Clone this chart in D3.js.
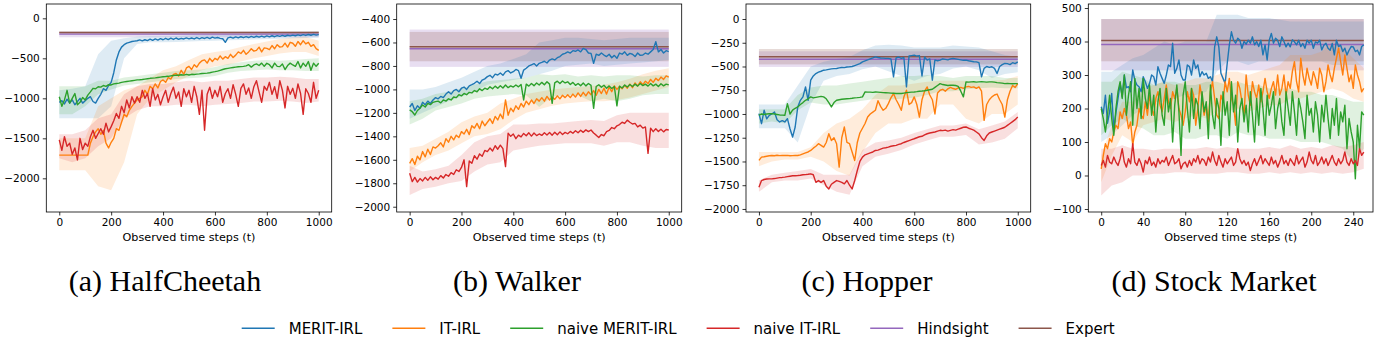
<!DOCTYPE html>
<html lang="en">
<head>
<meta charset="utf-8">
<title>MERIT-IRL curves</title>
<script src="https://cdn.jsdelivr.net/npm/d3@7"></script>
<style>
  body { margin: 0; background: #fff; }
  svg { display: block; }
</style>
</head>
<body>
<script>
// ---- data ----
let seriesNames = ["MERIT-IRL", "IT-IRL", "naive MERIT-IRL", "naive IT-IRL", "Hindsight", "Expert"];
let seriesColors = ["#1f77b4", "#ff7f0e", "#2ca02c", "#d62728", "#9467bd", "#8c564b"];

let stepsLong = d3.range(0, 1001, 10);
let bandStepsLong = d3.range(0, 1001, 50);
let stepsStock = d3.range(0, 251, 2);
let bandStepsStock = d3.range(0, 251, 10);

// (a) HalfCheetah
let hcMerit = [-1050,-1030,-1070,-1010,-1060,-1020,-1080,-1040,-1000,-1060,-1030,
  -1000,-980,-1040,-1060,-1000,-950,-880,-900,-840,-800,
  -680,-520,-420,-360,-330,-310,-300,-290,-285,-280,
  -270,-282,-268,-278,-260,-276,-258,-272,-255,-268,
  -250,-266,-248,-264,-246,-262,-250,-258,-244,-256,
  -246,-258,-240,-256,-242,-252,-238,-254,-236,-248,
  -240,-250,-255,-300,-245,-236,-248,-232,-244,-230,
  -242,-228,-240,-226,-238,-224,-236,-222,-234,-220,
  -232,-218,-230,-216,-226,-214,-224,-212,-220,-210,
  -218,-206,-216,-204,-214,-202,-212,-200,-210,-204];
let hcIt = [-1710,-1710,-1710,-1710,-1710,-1710,-1710,-1710,-1710,-1710,-1710,
  -1710,-1560,-1480,-1420,-1380,-1450,-1400,-1560,-1620,-1550,
  -1500,-1380,-1400,-1300,-1200,-1230,-1150,-1100,-1060,-1020,
  -1000,-980,-900,-950,-850,-880,-820,-870,-790,-770,
  -800,-740,-760,-700,-690,-720,-650,-700,-620,-600,
  -640,-580,-610,-560,-530,-520,-560,-500,-540,-500,
  -520,-470,-510,-480,-500,-450,-490,-460,-420,-440,
  -400,-450,-420,-380,-410,-400,-360,-420,-370,-375,
  -390,-340,-380,-330,-360,-354,-310,-360,-300,-312,
  -350,-290,-330,-280,-320,-300,-350,-330,-380,-400];
let hcNaiveMerit = [-980,-1100,-1020,-900,-1060,-1000,-940,-1080,-1050,-990,-1020,
  -960,-920,-875,-880,-855,-860,-840,-850,-830,-833,
  -820,-815,-810,-800,-795,-790,-785,-780,-775,-770,
  -768,-765,-760,-755,-750,-748,-745,-740,-735,-730,
  -728,-725,-720,-715,-710,-712,-705,-710,-700,-708,
  -700,-702,-698,-695,-690,-688,-685,-680,-672,-667,
  -660,-650,-640,-630,-625,-620,-615,-610,-605,-604,
  -600,-595,-580,-610,-583,-570,-590,-560,-600,-562,
  -580,-620,-560,-600,-604,-570,-640,-590,-560,-583,
  -600,-540,-620,-560,-600,-540,-650,-560,-600,-562];
let hcNaiveIt = [-1520,-1650,-1480,-1600,-1560,-1700,-1620,-1770,-1500,-1640,-1560,
  -1600,-1480,-1400,-1500,-1440,-1380,-1450,-1310,-1420,-1354,
  -1280,-1190,-1250,-1100,-1180,-1020,-1120,-980,-1060,-980,
  -1050,-900,-1000,-940,-1100,-880,-1020,-950,-1080,-980,
  -900,-1050,-940,-860,-1000,-920,-1100,-880,-980,-900,
  -1050,-850,-980,-1200,-900,-1400,-950,-860,-1000,-900,
  -980,-850,-1050,-940,-880,-1000,-830,-950,-1100,-875,
  -820,-950,-870,-1000,-855,-780,-920,-1050,-850,-900,
  -800,-950,-855,-1000,-780,-900,-1120,-850,-950,-875,
  -1000,-820,-940,-1200,-880,-940,-1050,-800,-1000,-900];
let hcMeritLo = [-1250,-1250,-1250,-1250,-1100,-500,-320,-300,-300,-295,-290,-285,-280,-275,-270,-265,-260,-255,-250,-245,-240];
let hcMeritHi = [-900,-880,-850,-450,-280,-250,-230,-225,-225,-220,-215,-210,-205,-200,-195,-190,-185,-180,-175,-170,-165];
let hcItLo = [-1900,-1900,-1900,-2100,-2150,-1800,-1200,-1000,-900,-800,-720,-650,-600,-580,-540,-500,-470,-440,-420,-420,-470];
let hcItHi = [-1500,-1500,-1500,-1100,-1000,-900,-850,-750,-650,-600,-520,-450,-420,-400,-360,-320,-290,-260,-240,-230,-280];
let hcNaiveMeritLo = [-1200,-1200,-1100,-950,-890,-840,-820,-800,-780,-760,-750,-740,-720,-680,-660,-650,-640,-650,-650,-660,-660];
let hcNaiveMeritHi = [-850,-850,-850,-780,-780,-740,-720,-700,-680,-660,-650,-640,-610,-570,-550,-530,-520,-530,-520,-510,-500];
let hcNaiveItLo = [-1750,-1800,-1750,-1600,-1500,-1250,-1150,-1100,-1100,-1080,-1080,-1100,-1080,-1070,-1060,-1040,-1040,-1030,-1040,-1060,-1040];
let hcNaiveItHi = [-1450,-1450,-1400,-1250,-1200,-950,-850,-820,-820,-800,-780,-800,-780,-780,-760,-740,-740,-730,-740,-760,-760];
let hcHindsight = [-198, -237, -167];
let hcExpert = [-178, -190, -166];

// (b) Walker
let wkMerit = [-1150,-1120,-1180,-1140,-1160,-1110,-1130,-1100,-1120,-1090,-1070,
  -1080,-1060,-1070,-1040,-1020,-1040,-1010,-1000,-1020,-990,
  -980,-1000,-970,-960,-948,-930,-950,-920,-910,-891,
  -880,-900,-870,-877,-860,-880,-850,-840,-860,-849,
  -830,-840,-905,-835,-820,-800,-790,-780,-800,-778,
  -770,-760,-775,-750,-740,-749,-730,-720,-700,-693,
  -680,-690,-670,-675,-664,-680,-650,-660,-690,-693,
  -778,-700,-710,-690,-707,-720,-700,-730,-710,-735,
  -690,-700,-680,-710,-693,-700,-720,-690,-710,-707,
  -690,-700,-680,-660,-593,-680,-660,-690,-670,-678];
let wkIt = [-1630,-1590,-1640,-1570,-1600,-1530,-1575,-1510,-1555,-1490,-1500,
  -1480,-1455,-1490,-1420,-1450,-1400,-1430,-1390,-1410,-1360,
  -1380,-1340,-1385,-1310,-1330,-1290,-1335,-1270,-1310,-1280,
  -1250,-1290,-1230,-1260,-1210,-1250,-1090,-1220,-1160,-1190,
  -1140,-1170,-1120,-1150,-1100,-1130,-1090,-1120,-1080,-1100,
  -1070,-1100,-1060,-1090,-1065,-1085,-1055,-1080,-1050,-1070,
  -1045,-1070,-1040,-1065,-1030,-1060,-1025,-1055,-1020,-1045,
  -1010,-1050,-1000,-1035,-990,-1040,-980,-1020,-970,-1000,
  -975,-995,-965,-990,-955,-985,-945,-970,-935,-960,
  -930,-950,-915,-940,-905,-925,-895,-915,-885,-895];
let wkNaiveMerit = [-1175,-1190,-1218,-1180,-1160,-1133,-1150,-1120,-1130,-1110,-1104,
  -1100,-1115,-1090,-1100,-1080,-1090,-1065,-1070,-1045,-1055,
  -1035,-1045,-1025,-1030,-1010,-1020,-995,-1010,-990,-1000,
  -978,-995,-972,-990,-968,-988,-962,-985,-970,-980,
  -962,-978,-958,-1090,-955,-972,-950,-968,-945,-962,
  -940,-960,-935,-955,-1119,-945,-930,-950,-928,-945,
  -935,-958,-940,-965,-950,-968,-945,-970,-950,-965,
  -1161,-975,-960,-982,-965,-990,-970,-992,-975,-1140,
  -972,-988,-962,-980,-958,-975,-955,-972,-950,-968,
  -955,-972,-950,-970,-955,-975,-952,-970,-955,-962];
let wkNaiveIt = [-1715,-1786,-1750,-1790,-1760,-1780,-1750,-1775,-1745,-1770,-1750,
  -1765,-1735,-1755,-1725,-1740,-1710,-1725,-1685,-1700,-1665,
  -1600,-1829,-1610,-1630,-1565,-1595,-1550,-1570,-1520,-1530,
  -1500,-1525,-1480,-1510,-1475,-1505,-1658,-1374,-1400,-1380,
  -1420,-1390,-1405,-1375,-1395,-1370,-1398,-1372,-1394,-1380,
  -1392,-1370,-1388,-1368,-1390,-1365,-1386,-1362,-1384,-1366,
  -1378,-1358,-1374,-1352,-1370,-1348,-1366,-1345,-1360,-1346,
  -1372,-1390,-1410,-1385,-1395,-1360,-1350,-1325,-1335,-1310,
  -1300,-1280,-1290,-1262,-1280,-1295,-1290,-1320,-1305,-1330,
  -1320,-1545,-1330,-1360,-1335,-1358,-1340,-1362,-1342,-1346];
let wkMeritLo = [-1250,-1200,-1150,-1100,-1060,-1020,-960,-940,-920,-900,-870,-840,-800,-790,-780,-800,-790,-780,-770,-760,-750];
let wkMeritHi = [-1000,-1000,-980,-940,-900,-850,-800,-780,-740,-700,-600,-580,-560,-560,-570,-580,-570,-560,-560,-560,-560];
let wkItLo = [-1700,-1620,-1560,-1520,-1460,-1400,-1380,-1340,-1260,-1200,-1170,-1140,-1120,-1110,-1100,-1100,-1090,-1070,-1040,-1010,-980];
let wkItHi = [-1500,-1480,-1420,-1360,-1280,-1230,-1200,-1120,-1080,-1040,-1020,-1000,-990,-980,-970,-960,-940,-910,-870,-840,-820];
let wkNaiveMeritLo = [-1300,-1250,-1180,-1150,-1120,-1080,-1060,-1050,-1040,-1050,-1150,-1060,-1050,-1050,-1100,-1080,-1100,-1080,-1050,-1040,-1040];
let wkNaiveMeritHi = [-1100,-1080,-1040,-1020,-990,-960,-930,-920,-910,-900,-870,-880,-870,-890,-880,-890,-880,-880,-890,-880,-880];
let wkNaiveItLo = [-1900,-1850,-1830,-1800,-1780,-1700,-1640,-1620,-1520,-1500,-1480,-1470,-1460,-1460,-1460,-1480,-1450,-1450,-1480,-1500,-1500];
let wkNaiveItHi = [-1650,-1700,-1680,-1650,-1560,-1450,-1400,-1380,-1300,-1300,-1290,-1290,-1280,-1270,-1260,-1270,-1220,-1200,-1200,-1200,-1200];
let wkHindsight = [-654, -808, -490];
let wkExpert = [-637, -760, -510];

// (c) Hopper
let hpMerit = [-996,-1102,-961,-1050,-1014,-1000,-979,-1060,-1084,-1070,-1084,
  -1049,-1155,-1243,-1137,-926,-856,-820,-715,-856,-644,
  -600,-574,-560,-550,-539,-535,-530,-525,-522,-521,
  -515,-510,-512,-505,-503,-500,-490,-480,-470,-451,
  -440,-430,-420,-410,-398,-405,-410,-412,-414,-415,
  -420,-609,-410,-400,-415,-405,-715,-390,-385,-380,
  -390,-385,-600,-400,-433,-420,-644,-430,-440,-433,
  -420,-425,-430,-420,-415,-420,-425,-430,-435,-433,
  -440,-445,-450,-451,-460,-609,-520,-500,-510,-503,
  -520,-574,-500,-480,-468,-470,-480,-460,-470,-451];
let hpIt = [-1489,-1454,-1450,-1445,-1440,-1437,-1440,-1435,-1438,-1436,-1437,
  -1436,-1440,-1438,-1437,-1437,-1430,-1420,-1410,-1400,-1384,
  -1360,-1340,-1313,-1330,-1349,-1300,-1208,-1280,-1250,-1313,
  -1560,-1250,-1137,-1300,-1313,-1400,-1489,-1300,-1200,-1150,
  -1100,-1032,-1000,-980,-961,-860,-920,-961,-940,-891,
  -830,-785,-850,-900,-961,-820,-750,-900,-880,-820,
  -900,-1032,-850,-760,-715,-800,-850,-1000,-780,-750,
  -740,-760,-735,-720,-732,-740,-725,-720,-730,-715,
  -710,-720,-715,-730,-715,-760,-1067,-900,-850,-820,
  -800,-790,-850,-900,-1032,-850,-760,-700,-720,-680];
let hpNaiveMerit = [-1014,-1000,-1005,-1000,-998,-996,-1000,-1005,-1010,-1012,-1014,
  -891,-1000,-960,-940,-926,-900,-880,-856,-840,-820,
  -830,-825,-820,-815,-820,-840,-880,-926,-880,-856,
  -850,-845,-842,-840,-838,-835,-830,-828,-825,-820,
  -768,-770,-770,-772,-768,-770,-772,-775,-776,-778,
  -780,-782,-785,-784,-785,-780,-775,-772,-770,-768,
  -765,-760,-758,-755,-750,-745,-740,-720,-700,-680,
  -690,-695,-700,-697,-697,-700,-710,-760,-820,-662,
  -665,-662,-660,-665,-662,-660,-662,-665,-662,-662,
  -665,-670,-672,-675,-680,-678,-680,-682,-680,-680];
let hpNaiveIt = [-1771,-1701,-1690,-1685,-1683,-1683,-1680,-1675,-1670,-1668,-1665,
  -1660,-1655,-1650,-1650,-1648,-1645,-1640,-1638,-1635,-1630,
  -1640,-1720,-1701,-1720,-1701,-1760,-1789,-1740,-1720,-1701,
  -1710,-1720,-1736,-1700,-1750,-1789,-1700,-1595,-1500,-1454,
  -1430,-1420,-1410,-1400,-1384,-1380,-1370,-1360,-1355,-1349,
  -1340,-1335,-1330,-1320,-1313,-1300,-1290,-1280,-1270,-1261,
  -1250,-1240,-1235,-1220,-1208,-1200,-1195,-1190,-1180,-1172,
  -1175,-1170,-1180,-1172,-1165,-1170,-1160,-1150,-1140,-1137,
  -1150,-1160,-1170,-1190,-1210,-1250,-1278,-1230,-1200,-1190,
  -1180,-1170,-1160,-1150,-1140,-1120,-1100,-1080,-1060,-1032];
let hpMeritLo = [-1150,-1150,-1150,-1300,-900,-650,-600,-580,-530,-500,-550,-600,-650,-600,-580,-520,-500,-540,-620,-580,-560];
let hpMeritHi = [-900,-900,-900,-700,-500,-450,-420,-400,-330,-280,-270,-280,-300,-300,-300,-280,-290,-300,-340,-380,-400];
let hpItLo = [-1550,-1500,-1480,-1480,-1450,-1500,-1600,-1650,-1400,-1200,-1100,-1100,-1050,-1050,-900,-900,-1050,-1100,-1000,-1000,-900];
let hpItHi = [-1400,-1400,-1400,-1400,-1350,-1200,-1100,-1050,-950,-800,-700,-700,-680,-660,-650,-650,-650,-680,-650,-640,-600];
let hpNaiveMeritLo = [-1100,-1080,-1100,-960,-880,-900,-900,-880,-860,-840,-850,-840,-830,-800,-760,-760,-740,-730,-720,-730,-730];
let hpNaiveMeritHi = [-950,-950,-950,-800,-720,-700,-700,-680,-660,-640,-620,-600,-600,-590,-600,-620,-600,-600,-600,-620,-620];
let hpNaiveItLo = [-1820,-1720,-1700,-1700,-1680,-1750,-1820,-1850,-1550,-1450,-1420,-1380,-1320,-1280,-1240,-1240,-1220,-1320,-1300,-1260,-1150];
let hpNaiveItHi = [-1700,-1640,-1620,-1600,-1580,-1640,-1640,-1640,-1380,-1300,-1280,-1250,-1200,-1160,-1120,-1120,-1100,-1160,-1120,-1080,-980];
let hpHindsight = [-424, -505, -340];
let hpExpert = [-397, -478, -316];

// (d) Stock Market
let smMerit = [205,185,240,156,190,245,136,186,230,275,
  235,300,262,265,250,315,285,270,265,250,
  295,280,260,275,300,295,270,325,305,290,
  275,300,330,325,395,305,320,345,300,285,
  285,330,325,300,345,320,330,295,310,300,
  305,290,295,280,384,414,384,305,290,275,
  335,390,429,404,395,410,404,380,400,392,
  404,395,414,390,400,385,404,360,390,345,
  404,424,395,410,404,385,414,400,384,395,
  384,405,399,390,404,385,394,380,404,395,
  404,380,399,395,404,375,389,395,380,374,
  394,360,404,385,389,370,380,360,374,385,
  384,370,374,360,385,390];
let smIt = [20,60,95,80,110,100,130,150,140,190,
  170,200,180,140,160,90,130,150,200,180,
  170,220,180,240,200,180,230,250,210,190,
  230,270,220,200,250,230,260,200,180,150,
  190,250,220,260,240,150,200,270,230,180,
  210,160,250,280,230,180,170,240,220,280,
  250,290,230,210,150,280,260,220,180,300,
  240,210,280,250,230,270,220,250,290,250,
  230,260,280,240,300,240,260,300,240,280,
  260,310,340,280,250,350,300,270,320,290,
  270,310,290,260,320,300,250,280,330,300,
  280,320,350,380,340,300,360,320,280,300,
  260,330,300,280,250,260];
let smNaiveMerit = [200,170,130,180,240,170,120,200,250,280,
  230,300,180,240,280,150,290,200,260,170,
  290,230,200,270,180,240,130,220,260,180,
  150,260,190,230,100,210,270,190,60,240,
  280,200,130,260,170,230,210,140,250,190,
  220,110,270,180,140,230,200,90,250,180,
  220,120,280,190,240,100,200,230,160,210,
  130,250,180,100,230,150,260,200,120,240,
  180,210,250,140,200,230,160,120,250,200,
  150,250,190,120,230,200,160,110,240,180,
  200,130,220,180,100,210,160,240,170,110,
  200,150,230,120,190,160,210,80,170,130,
  100,-10,150,80,190,180];
let smNaiveIt = [30,45,25,60,40,35,55,40,30,50,
  80,40,25,50,35,95,40,30,50,35,
  10,45,35,55,30,40,25,50,35,45,
  40,55,30,45,60,35,40,50,20,35,
  40,25,45,30,50,40,60,35,50,45,
  30,55,40,70,45,30,60,40,25,50,
  35,45,55,30,40,80,50,35,45,30,
  40,15,35,50,30,45,60,35,50,40,
  30,55,35,45,25,40,60,35,45,30,
  50,40,30,60,35,45,55,25,40,70,
  45,35,60,30,40,55,35,50,30,45,
  60,40,30,50,35,45,70,40,30,50,
  35,45,30,80,60,70];
let smMeritLo = [100,120,150,180,200,220,220,230,240,240,250,310,340,340,330,340,340,340,340,340,340,340,330,330,330,330];
let smMeritHi = [310,310,330,350,360,380,400,390,400,400,400,480,480,480,470,470,470,465,460,460,460,460,460,460,460,460];
let smItLo = [-20,60,120,100,150,160,170,160,170,180,170,190,190,200,190,200,210,210,230,230,240,250,260,250,230,220];
let smItHi = [60,150,220,220,260,270,280,270,280,290,290,300,310,310,300,310,320,330,360,360,360,370,400,380,350,320];
let smNaiveMeritLo = [120,150,170,150,140,120,120,130,110,110,120,120,110,130,120,120,110,110,110,100,100,100,90,80,40,80];
let smNaiveMeritHi = [280,280,310,300,290,270,280,280,270,270,280,280,270,280,270,270,260,260,260,250,250,240,240,230,220,220];
let smNaiveItLo = [-60,-30,-20,0,0,5,5,10,10,5,5,5,10,10,5,5,10,5,10,5,10,5,10,5,10,20];
let smNaiveItHi = [80,80,90,80,80,75,80,80,80,80,85,80,85,80,80,80,85,80,90,80,85,80,90,85,90,100];
let smHindsight = [391, 314, 467];
let smExpert = [403, 341, 467];

let xTicksLong = [0, 200, 400, 600, 800, 1000];
let xTicksStock = [0, 40, 80, 120, 160, 200, 240];
let xLabel = "Observed time steps (t)";

// ---- layout ----
let W = 1380, H = 342;
let plotTop = 4, plotBottom = 212;

let panels = [
  { left: 46.3, right: 331.7, xDomain: [-50, 1050], yDomain: [-2421, 179],
    yTicks: [-2000, -1500, -1000, -500, 0], xTicks: xTicksLong,
    steps: stepsLong, bandSteps: bandStepsLong,
    lines: [hcMerit, hcIt, hcNaiveMerit, hcNaiveIt],
    bands: [[hcMeritLo, hcMeritHi], [hcItLo, hcItHi], [hcNaiveMeritLo, hcNaiveMeritHi], [hcNaiveItLo, hcNaiveItHi]],
    refs: [hcHindsight, hcExpert], caption: "(a) HalfCheetah", captionX: 165 },
  { left: 396.7, right: 681.7, xDomain: [-50, 1050], yDomain: [-2045, -272],
    yTicks: d3.range(-2000, -399, 200), xTicks: xTicksLong,
    steps: stepsLong, bandSteps: bandStepsLong,
    lines: [wkMerit, wkIt, wkNaiveMerit, wkNaiveIt],
    bands: [[wkMeritLo, wkMeritHi], [wkItLo, wkItHi], [wkNaiveMeritLo, wkNaiveMeritHi], [wkNaiveItLo, wkNaiveItHi]],
    refs: [wkHindsight, wkExpert], caption: "(b) Walker", captionX: 517 },
  { left: 746, right: 1030.7, xDomain: [-50, 1050], yDomain: [-2032, 158],
    yTicks: d3.range(-2000, 1, 250), xTicks: xTicksLong,
    steps: stepsLong, bandSteps: bandStepsLong,
    lines: [hpMerit, hpIt, hpNaiveMerit, hpNaiveIt],
    bands: [[hpMeritLo, hpMeritHi], [hpItLo, hpItHi], [hpNaiveMeritLo, hpNaiveMeritHi], [hpNaiveItLo, hpNaiveItHi]],
    refs: [hpHindsight, hpExpert], caption: "(c) Hopper", captionX: 867 },
  { left: 1088.3, right: 1373, xDomain: [-12.3, 258.8], yDomain: [-109, 512],
    yTicks: d3.range(-100, 501, 100), xTicks: xTicksStock,
    steps: stepsStock, bandSteps: bandStepsStock,
    lines: [smMerit, smIt, smNaiveMerit, smNaiveIt],
    bands: [[smMeritLo, smMeritHi], [smItLo, smItHi], [smNaiveMeritLo, smNaiveMeritHi], [smNaiveItLo, smNaiveItHi]],
    refs: [smHindsight, smExpert], caption: "(d) Stock Market", captionX: 1214 }
];

let svg = d3.select("body").append("svg")
  .attr("width", W)
  .attr("height", H)
  .style("font-family", "'DejaVu Sans', sans-serif");

function drawPanel(p, idx) {
  let x = d3.scaleLinear().domain(p.xDomain).range([p.left, p.right]);
  let y = d3.scaleLinear().domain(p.yDomain).range([plotBottom, plotTop]);

  svg.append("clipPath").attr("id", "clip" + idx)
    .append("rect")
    .attr("x", p.left).attr("y", plotTop)
    .attr("width", p.right - p.left).attr("height", plotBottom - plotTop);

  let g = svg.append("g").attr("clip-path", "url(#clip" + idx + ")");
  let lastStep = p.steps[p.steps.length - 1];

  // hindsight / expert: flat line with a band
  p.refs.forEach(function(r, k) {
    g.append("rect")
      .attr("x", x(0)).attr("width", x(lastStep) - x(0))
      .attr("y", y(r[2])).attr("height", y(r[1]) - y(r[2]))
      .attr("fill", seriesColors[4 + k]).attr("fill-opacity", 0.22);
  });

  let area = d3.area()
    .x(function(d, i) { return x(p.bandSteps[i]); })
    .y0(function(d) { return y(d[0]); })
    .y1(function(d) { return y(d[1]); });

  p.bands.forEach(function(b, k) {
    g.append("path")
      .datum(d3.zip(b[0], b[1]))
      .attr("d", area)
      .attr("fill", seriesColors[k])
      .attr("fill-opacity", 0.15);
  });

  p.refs.forEach(function(r, k) {
    g.append("line")
      .attr("x1", x(0)).attr("x2", x(lastStep))
      .attr("y1", y(r[0])).attr("y2", y(r[0]))
      .attr("stroke", seriesColors[4 + k])
      .attr("stroke-width", 1.4);
  });

  let line = d3.line()
    .x(function(d, i) { return x(p.steps[i]); })
    .y(function(d) { return y(d); });

  p.lines.forEach(function(s, k) {
    g.append("path")
      .datum(s)
      .attr("d", line)
      .attr("fill", "none")
      .attr("stroke", seriesColors[k])
      .attr("stroke-width", 1.4)
      .attr("stroke-linejoin", "round");
  });

  // axes
  let xAxis = svg.append("g")
    .attr("transform", "translate(0," + plotBottom + ")")
    .call(d3.axisBottom(x).tickValues(p.xTicks).tickSize(3.5).tickPadding(3).tickFormat(d3.format("d")));
  let yAxis = svg.append("g")
    .attr("transform", "translate(" + p.left + ",0)")
    .call(d3.axisLeft(y).tickValues(p.yTicks).tickSize(3.5).tickPadding(3).tickFormat(d3.format("d")));

  [xAxis, yAxis].forEach(function(a) {
    a.select(".domain").remove();
    a.selectAll("line").attr("stroke", "#000").attr("stroke-width", 0.8);
    a.selectAll("text")
      .attr("fill", "#000")
      .style("font-family", "'DejaVu Sans', sans-serif")
      .style("font-size", "10.5px");
  });

  svg.append("rect")
    .attr("x", p.left).attr("y", plotTop)
    .attr("width", p.right - p.left).attr("height", plotBottom - plotTop)
    .attr("fill", "none")
    .attr("stroke", "#000")
    .attr("stroke-width", 0.8);

  svg.append("text")
    .attr("x", (p.left + p.right) / 2)
    .attr("y", 240.5)
    .attr("text-anchor", "middle")
    .style("font-size", "11.2px")
    .text(xLabel);

  svg.append("text")
    .attr("x", p.captionX)
    .attr("y", 291)
    .attr("text-anchor", "middle")
    .style("font-family", "'Liberation Serif', 'Times New Roman', serif")
    .style("font-size", "30px")
    .text(p.caption);
}

panels.forEach(drawPanel);

// legend
let legend = svg.append("g");
let lx = 241.7, ly = 328.3;
seriesNames.forEach(function(name, i) {
  legend.append("line")
    .attr("x1", lx).attr("x2", lx + 33)
    .attr("y1", ly).attr("y2", ly)
    .attr("stroke", seriesColors[i])
    .attr("stroke-width", 1.5);
  let t = legend.append("text")
    .attr("x", lx + 47)
    .attr("y", ly + 5.5)
    .style("font-size", "15px")
    .text(name);
  lx = lx + 47 + t.node().getComputedTextLength() + 30;
});
</script>
</body>
</html>
